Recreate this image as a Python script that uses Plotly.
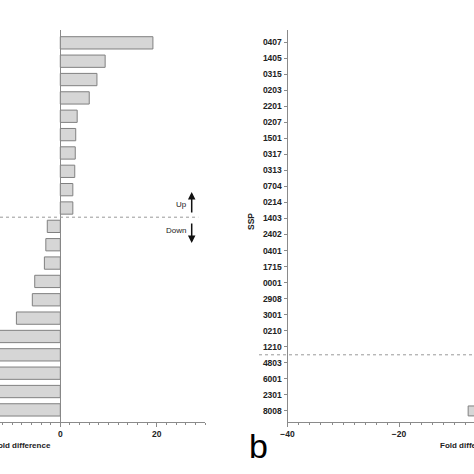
import plotly.graph_objects as go

# Panel a: values (labels are cropped off the image)
genes_a = ["A%02d" % i for i in range(1, 22)]
fold_a = [19.2, 9.3, 7.6, 6.0, 3.5, 3.2, 3.1, 3.0, 2.6, 2.6,
          -2.7, -3.0, -3.3, -5.3, -5.8, -9.1, -14.0, -16.0, -19.0, -23.0, -30.0]

# Panel b: SSP categories, top to bottom
ssp_b = ["0407", "1405", "0315", "0203", "2201", "0207", "1501", "0317",
         "0313", "0704", "0214", "1403", "2402", "0401", "1715", "0001",
         "2908", "3001", "0210", "1210", "4803", "6001", "2301", "8008"]
fold_b = [30.0, 18.0, 14.0, 12.0, 10.0, 9.0, 8.0, 7.5, 7.0, 6.5, 6.0, 5.5,
          5.0, 4.5, 4.0, 3.8, 3.5, 3.2, 3.0, 2.8, -2.5, -3.0, -4.0, -7.6]

W = 474
def px(x):
    return x / W
def py(y):
    return 1 - y / W

bar_fill = "#d6d6d6"
bar_line = "#808080"
axis_col = "#8a8a8a"
font = "Liberation Sans"

fig = go.Figure()
fig.add_trace(go.Bar(x=fold_a, y=genes_a, orientation="h", width=0.67,
                     marker=dict(color=bar_fill, line=dict(color=bar_line, width=1)),
                     xaxis="x", yaxis="y"))
fig.add_trace(go.Bar(x=fold_b, y=ssp_b, orientation="h", width=0.62,
                     marker=dict(color=bar_fill, line=dict(color=bar_line, width=1)),
                     xaxis="x2", yaxis="y2"))

ydom = [py(422), py(30)]
fig.update_layout(
    template="none",
    width=474, height=474, autosize=False,
    margin=dict(l=0, r=0, t=0, b=0, pad=0, autoexpand=False),
    paper_bgcolor="white", plot_bgcolor="white", showlegend=False,
    font=dict(family=font, size=8.5, color="black"),
    xaxis=dict(domain=[0, px(205)], range=[-12.5, 30], anchor="y", automargin=False,
               showgrid=False, showline=True, linecolor=axis_col, linewidth=1,
               zeroline=True, zerolinecolor=axis_col, zerolinewidth=1,
               tickmode="linear", tick0=0, dtick=20, ticks="outside", ticklen=4,
               tickcolor=axis_col,
               minor=dict(dtick=2, ticks="outside", ticklen=2, tickcolor=axis_col),
               tickfont=dict(family=font, size=8.5, weight="bold", color="#222")),
    yaxis=dict(domain=ydom, anchor="x", type="category",
               categoryorder="array", categoryarray=genes_a,
               range=[20.66, -0.7], showticklabels=False, showgrid=False,
               showline=False, zeroline=False, ticks="", automargin=False),
    xaxis2=dict(domain=[px(287.5), 1], range=[-40, -6.55], anchor="y2",
                automargin=False,
                showgrid=False, showline=True, linecolor=axis_col, linewidth=1,
                zeroline=False, tickmode="linear", tick0=0, dtick=20,
                ticks="outside", ticklen=4, tickcolor=axis_col,
                minor=dict(dtick=2, ticks="outside", ticklen=2, tickcolor=axis_col),
                tickfont=dict(family=font, size=8.5, weight="bold", color="#222")),
    yaxis2=dict(domain=ydom, anchor="x2", type="category",
                categoryorder="array", categoryarray=ssp_b,
                range=[23.69, -0.75], showgrid=False, showline=True, automargin=False,
                linecolor=axis_col, linewidth=1, zeroline=False,
                ticks="outside", ticklen=3, tickcolor=axis_col,
                tickfont=dict(family=font, size=8.5, weight="bold", color="#222")),
)

# dashed separators between up and down regulated
fig.add_shape(type="line", xref="x", yref="y", x0=-12.5, x1=28.6, y0=9.5, y1=9.5,
              line=dict(color="#999999", width=1, dash="dot"))
fig.add_shape(type="line", xref="paper", yref="y2", x0=px(259), x1=1, y0=19.5, y1=19.5,
              line=dict(color="#999999", width=1, dash="dot"))

# Up / Down arrows
fig.add_annotation(xref="paper", yref="paper", x=px(191.7), y=py(192), ax=0, ay=22,
                   text="", showarrow=True, arrowhead=2, arrowsize=1, arrowwidth=1.5,
                   arrowcolor="#111")
fig.add_annotation(xref="paper", yref="paper", x=px(191.7), y=py(243), ax=0, ay=-21,
                   text="", showarrow=True, arrowhead=2, arrowsize=1, arrowwidth=1.5,
                   arrowcolor="#111")
fig.add_annotation(xref="paper", yref="paper", x=px(181), y=py(204), text="Up",
                   xanchor="center", yanchor="middle", showarrow=False,
                   font=dict(family=font, size=8, color="#222222"))
fig.add_annotation(xref="paper", yref="paper", x=px(176), y=py(230), text="Down",
                   xanchor="center", yanchor="middle", showarrow=False,
                   font=dict(family=font, size=8, color="#222222"))

# axis titles and panel label (both titles are cut by the image edges, as in the source)
fig.add_annotation(xref="paper", yref="paper", x=px(53), y=py(445),
                   xanchor="right", yanchor="middle",
                   text="<b>Fold difference</b>", showarrow=False,
                   font=dict(family=font, size=8, color="#222"))
fig.add_annotation(xref="paper", yref="paper", x=px(438), y=py(445),
                   xanchor="left", yanchor="middle",
                   text="<b>Fold difference</b>", showarrow=False,
                   font=dict(family=font, size=8, color="#222"))
fig.add_annotation(xref="paper", yref="paper", x=px(251), y=py(222), textangle=-90,
                   xanchor="center", yanchor="middle",
                   text="<b>SSP</b>", showarrow=False,
                   font=dict(family=font, size=8.5, color="#222"))
fig.add_annotation(xref="paper", yref="paper", x=px(258), y=py(446),
                   xanchor="center", yanchor="middle", text="b",
                   showarrow=False, font=dict(family=font, size=34, color="black"))

# drop the default page margin so the figure sits at the window's corner
pin = ("document.documentElement.style.margin='0';"
       "document.body.style.margin='0';"
       "document.body.style.overflow='hidden';")
fig.write_html("out.html", config={"displayModeBar": False, "responsive": False},
               post_script=pin)
